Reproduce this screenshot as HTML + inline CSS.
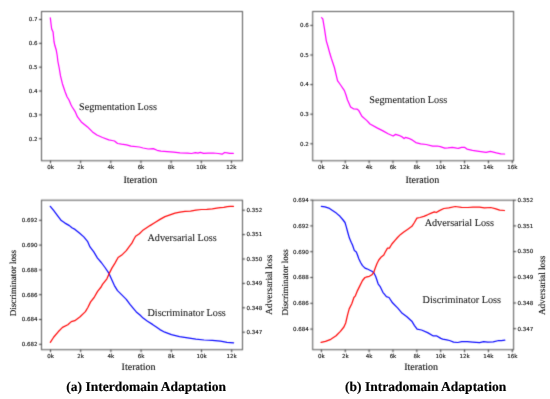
<!DOCTYPE html>
<html><head><meta charset="utf-8"><title>Loss curves</title>
<style>
html,body{margin:0;padding:0;background:#fff;}
body{width:550px;height:399px;overflow:hidden;}
svg{display:block;text-rendering:geometricPrecision;}
.tk{font-family:"DejaVu Sans","Liberation Sans",sans-serif;font-size:5.5px;fill:#151515;stroke:#151515;stroke-width:0.15px;}
.lab{font-family:"Liberation Serif",serif;font-size:10.2px;fill:#222;stroke:#222;stroke-width:0.1px;}
.ax{font-family:"Liberation Serif",serif;font-size:10px;fill:#161616;stroke:#161616;stroke-width:0.14px;}
.ax2{font-family:"Liberation Serif",serif;font-size:9px;fill:#161616;stroke:#161616;stroke-width:0.14px;}
.cap{font-family:"Liberation Serif",serif;font-size:13.5px;font-weight:bold;fill:#000;stroke:#000;stroke-width:0.15px;}
</style></head>
<body>
<svg width="550" height="399" viewBox="0 0 550 399">
<defs><filter id="bl" filterUnits="userSpaceOnUse" x="0" y="0" width="550" height="399" color-interpolation-filters="sRGB"><feConvolveMatrix order="3" kernelMatrix="1 3 1 3 9 3 1 3 1" divisor="25" edgeMode="none"/></filter>
<filter id="bt" filterUnits="userSpaceOnUse" x="0" y="0" width="550" height="399" color-interpolation-filters="sRGB"><feConvolveMatrix order="3" kernelMatrix="1 6 1 6 36 6 1 6 1" divisor="64" edgeMode="none"/></filter>
<filter id="bx" filterUnits="userSpaceOnUse" x="0" y="0" width="550" height="399" color-interpolation-filters="sRGB"><feConvolveMatrix order="3" kernelMatrix="1 10 1 10 100 10 1 10 1" divisor="144" edgeMode="none"/></filter></defs>
<rect width="550" height="399" fill="#fff"/>
<g filter="url(#bl)">
<rect x="41.5" y="11.5" width="201.0" height="149.25" fill="none" stroke="#555" stroke-width="1"/>
<line x1="50.50" y1="160.75" x2="50.50" y2="163.25" stroke="#222" stroke-width="0.9"/>
<line x1="80.66" y1="160.75" x2="80.66" y2="163.25" stroke="#222" stroke-width="0.9"/>
<line x1="110.82" y1="160.75" x2="110.82" y2="163.25" stroke="#222" stroke-width="0.9"/>
<line x1="140.98" y1="160.75" x2="140.98" y2="163.25" stroke="#222" stroke-width="0.9"/>
<line x1="171.14" y1="160.75" x2="171.14" y2="163.25" stroke="#222" stroke-width="0.9"/>
<line x1="201.30" y1="160.75" x2="201.30" y2="163.25" stroke="#222" stroke-width="0.9"/>
<line x1="231.46" y1="160.75" x2="231.46" y2="163.25" stroke="#222" stroke-width="0.9"/>
<line x1="39.0" y1="138.70" x2="41.5" y2="138.70" stroke="#222" stroke-width="0.9"/>
<line x1="39.0" y1="114.86" x2="41.5" y2="114.86" stroke="#222" stroke-width="0.9"/>
<line x1="39.0" y1="91.02" x2="41.5" y2="91.02" stroke="#222" stroke-width="0.9"/>
<line x1="39.0" y1="67.18" x2="41.5" y2="67.18" stroke="#222" stroke-width="0.9"/>
<line x1="39.0" y1="43.34" x2="41.5" y2="43.34" stroke="#222" stroke-width="0.9"/>
<line x1="39.0" y1="19.50" x2="41.5" y2="19.50" stroke="#222" stroke-width="0.9"/>
<rect x="312.7" y="11.5" width="200.90000000000003" height="149.25" fill="none" stroke="#555" stroke-width="1"/>
<line x1="321.40" y1="160.75" x2="321.40" y2="163.25" stroke="#222" stroke-width="0.9"/>
<line x1="345.26" y1="160.75" x2="345.26" y2="163.25" stroke="#222" stroke-width="0.9"/>
<line x1="369.12" y1="160.75" x2="369.12" y2="163.25" stroke="#222" stroke-width="0.9"/>
<line x1="392.98" y1="160.75" x2="392.98" y2="163.25" stroke="#222" stroke-width="0.9"/>
<line x1="416.84" y1="160.75" x2="416.84" y2="163.25" stroke="#222" stroke-width="0.9"/>
<line x1="440.70" y1="160.75" x2="440.70" y2="163.25" stroke="#222" stroke-width="0.9"/>
<line x1="464.56" y1="160.75" x2="464.56" y2="163.25" stroke="#222" stroke-width="0.9"/>
<line x1="488.42" y1="160.75" x2="488.42" y2="163.25" stroke="#222" stroke-width="0.9"/>
<line x1="512.28" y1="160.75" x2="512.28" y2="163.25" stroke="#222" stroke-width="0.9"/>
<line x1="310.2" y1="143.80" x2="312.7" y2="143.80" stroke="#222" stroke-width="0.9"/>
<line x1="310.2" y1="114.20" x2="312.7" y2="114.20" stroke="#222" stroke-width="0.9"/>
<line x1="310.2" y1="84.60" x2="312.7" y2="84.60" stroke="#222" stroke-width="0.9"/>
<line x1="310.2" y1="55.00" x2="312.7" y2="55.00" stroke="#222" stroke-width="0.9"/>
<line x1="310.2" y1="25.40" x2="312.7" y2="25.40" stroke="#222" stroke-width="0.9"/>
<rect x="41.5" y="200.2" width="201.0" height="149.5" fill="none" stroke="#555" stroke-width="1"/>
<line x1="50.50" y1="349.7" x2="50.50" y2="352.2" stroke="#222" stroke-width="0.9"/>
<line x1="80.70" y1="349.7" x2="80.70" y2="352.2" stroke="#222" stroke-width="0.9"/>
<line x1="110.90" y1="349.7" x2="110.90" y2="352.2" stroke="#222" stroke-width="0.9"/>
<line x1="141.10" y1="349.7" x2="141.10" y2="352.2" stroke="#222" stroke-width="0.9"/>
<line x1="171.30" y1="349.7" x2="171.30" y2="352.2" stroke="#222" stroke-width="0.9"/>
<line x1="201.50" y1="349.7" x2="201.50" y2="352.2" stroke="#222" stroke-width="0.9"/>
<line x1="231.70" y1="349.7" x2="231.70" y2="352.2" stroke="#222" stroke-width="0.9"/>
<line x1="39.0" y1="344.30" x2="41.5" y2="344.30" stroke="#222" stroke-width="0.9"/>
<line x1="39.0" y1="319.50" x2="41.5" y2="319.50" stroke="#222" stroke-width="0.9"/>
<line x1="39.0" y1="294.70" x2="41.5" y2="294.70" stroke="#222" stroke-width="0.9"/>
<line x1="39.0" y1="269.90" x2="41.5" y2="269.90" stroke="#222" stroke-width="0.9"/>
<line x1="39.0" y1="245.10" x2="41.5" y2="245.10" stroke="#222" stroke-width="0.9"/>
<line x1="39.0" y1="220.30" x2="41.5" y2="220.30" stroke="#222" stroke-width="0.9"/>
<line x1="242.5" y1="332.20" x2="245.0" y2="332.20" stroke="#222" stroke-width="0.9"/>
<line x1="242.5" y1="307.80" x2="245.0" y2="307.80" stroke="#222" stroke-width="0.9"/>
<line x1="242.5" y1="283.40" x2="245.0" y2="283.40" stroke="#222" stroke-width="0.9"/>
<line x1="242.5" y1="259.00" x2="245.0" y2="259.00" stroke="#222" stroke-width="0.9"/>
<line x1="242.5" y1="234.60" x2="245.0" y2="234.60" stroke="#222" stroke-width="0.9"/>
<line x1="242.5" y1="210.20" x2="245.0" y2="210.20" stroke="#222" stroke-width="0.9"/>
<rect x="312.7" y="200.2" width="200.90000000000003" height="149.5" fill="none" stroke="#555" stroke-width="1"/>
<line x1="321.40" y1="349.7" x2="321.40" y2="352.2" stroke="#222" stroke-width="0.9"/>
<line x1="345.26" y1="349.7" x2="345.26" y2="352.2" stroke="#222" stroke-width="0.9"/>
<line x1="369.12" y1="349.7" x2="369.12" y2="352.2" stroke="#222" stroke-width="0.9"/>
<line x1="392.98" y1="349.7" x2="392.98" y2="352.2" stroke="#222" stroke-width="0.9"/>
<line x1="416.84" y1="349.7" x2="416.84" y2="352.2" stroke="#222" stroke-width="0.9"/>
<line x1="440.70" y1="349.7" x2="440.70" y2="352.2" stroke="#222" stroke-width="0.9"/>
<line x1="464.56" y1="349.7" x2="464.56" y2="352.2" stroke="#222" stroke-width="0.9"/>
<line x1="488.42" y1="349.7" x2="488.42" y2="352.2" stroke="#222" stroke-width="0.9"/>
<line x1="512.28" y1="349.7" x2="512.28" y2="352.2" stroke="#222" stroke-width="0.9"/>
<line x1="310.2" y1="329.10" x2="312.7" y2="329.10" stroke="#222" stroke-width="0.9"/>
<line x1="310.2" y1="303.30" x2="312.7" y2="303.30" stroke="#222" stroke-width="0.9"/>
<line x1="310.2" y1="277.50" x2="312.7" y2="277.50" stroke="#222" stroke-width="0.9"/>
<line x1="310.2" y1="251.70" x2="312.7" y2="251.70" stroke="#222" stroke-width="0.9"/>
<line x1="310.2" y1="225.90" x2="312.7" y2="225.90" stroke="#222" stroke-width="0.9"/>
<line x1="310.2" y1="200.10" x2="312.7" y2="200.10" stroke="#222" stroke-width="0.9"/>
<line x1="513.6" y1="328.70" x2="516.1" y2="328.70" stroke="#222" stroke-width="0.9"/>
<line x1="513.6" y1="303.00" x2="516.1" y2="303.00" stroke="#222" stroke-width="0.9"/>
<line x1="513.6" y1="277.30" x2="516.1" y2="277.30" stroke="#222" stroke-width="0.9"/>
<line x1="513.6" y1="251.60" x2="516.1" y2="251.60" stroke="#222" stroke-width="0.9"/>
<line x1="513.6" y1="225.90" x2="516.1" y2="225.90" stroke="#222" stroke-width="0.9"/>
<line x1="513.6" y1="200.20" x2="516.1" y2="200.20" stroke="#222" stroke-width="0.9"/>
</g>
<g filter="url(#bt)">
<polyline points="50.3,17.8 51.5,27.8 51.9,29.6 53.1,32.1 54.0,41.5 54.8,45.3 56.3,50.3 57.2,55.5 57.9,61.5 59.2,68.0 60.5,75.9 62.4,83.7 65.0,91.5 67.0,96.7 69.0,100.0 70.9,104.5 71.9,106.5 75.0,111.3 77.5,116.9 81.3,121.9 87.5,126.9 92.5,131.9 96.9,135.0 102.5,137.5 108.8,139.8 112.0,140.5 114.5,141.0 117.6,143.5 121.5,144.2 126.5,144.8 131.0,146.1 139.3,147.0 143.1,148.0 148.2,149.0 153.3,148.6 157.1,150.3 160.9,151.2 167.3,151.6 173.6,152.2 180.0,152.8 187.7,153.2 191.5,153.5 195.4,152.6 197.9,153.2 200.4,152.4 203.6,153.3 208.1,153.2 213.2,153.0 218.3,153.5 222.1,154.2 224.6,152.5 227.2,152.9 229.7,153.4 233.3,153.4" fill="none" stroke="#ff00ff" stroke-width="1.25" stroke-linejoin="round" stroke-linecap="round"/>
<polyline points="321.5,17.6 322.8,18.9 324.4,28.3 326.3,40.8 328.1,47.0 329.8,53.3 331.3,58.3 331.9,60.0 334.4,67.5 336.5,76.3 337.5,80.6 340.6,85.0 344.4,90.6 346.0,95.0 347.5,100.0 348.1,101.3 350.6,106.9 353.8,109.0 356.9,109.1 358.8,110.6 361.9,116.3 366.9,120.6 370.0,124.0 377.5,128.1 382.5,130.6 388.1,133.8 393.1,136.0 395.6,134.4 398.8,135.3 402.2,136.9 404.1,138.5 405.5,137.4 408.7,138.3 411.5,139.6 415.8,142.6 420.7,143.8 426.2,144.5 432.7,146.2 437.1,146.0 440.3,146.7 444.7,148.1 448.0,147.8 452.3,147.3 456.7,148.1 458.3,148.3 461.5,147.4 464.8,147.4 467.0,149.1 472.4,150.3 479.0,151.3 486.1,152.4 490.4,151.4 496.4,152.9 500.8,153.8 504.6,154.0" fill="none" stroke="#ff00ff" stroke-width="1.25" stroke-linejoin="round" stroke-linecap="round"/>
<polyline points="50.3,206.3 53.8,210.6 57.5,215.6 61.3,220.6 65.0,223.1 69.4,225.6 71.9,227.8 75.0,229.4 79.4,233.1 83.8,236.9 87.5,241.3 90.0,246.9 93.8,251.9 97.5,258.1 101.3,262.5 105.0,267.5 108.8,273.1 111.9,280.0 114.4,285.6 117.5,290.6 121.3,294.4 126.3,299.4 130.0,304.4 133.1,308.1 136.3,311.9 140.0,315.0 143.1,318.1 147.5,321.3 152.5,324.4 156.3,326.9 159.9,329.6 164.8,332.2 171.4,334.6 179.5,336.6 187.7,337.9 195.9,339.1 204.1,340.0 212.3,340.4 220.5,341.2 227.0,342.3 233.6,342.8" fill="none" stroke="#0a0aff" stroke-width="1.25" stroke-linejoin="round" stroke-linecap="round"/>
<polyline points="50.3,342.3 53.8,337.0 58.2,331.8 62.5,327.4 67.8,324.7 71.3,321.6 74.8,320.7 80.1,316.8 85.4,311.6 88.0,307.2 90.6,301.9 94.1,297.5 97.6,291.4 101.1,287.0 102.5,284.4 106.9,278.8 109.4,273.1 111.9,268.1 115.0,263.1 118.1,257.5 122.5,254.4 126.3,250.6 129.4,246.3 131.9,243.1 133.5,240.0 135.6,236.3 139.4,233.8 142.5,230.6 146.3,228.1 150.0,225.6 155.0,222.5 160.0,219.4 165.0,216.6 170.0,214.8 175.0,213.1 180.0,212.1 185.0,211.3 190.5,211.1 195.9,210.2 201.4,209.5 206.8,209.3 212.3,208.8 216.8,208.2 220.3,207.7 223.8,207.3 227.3,206.6 230.2,206.3 233.4,206.4" fill="none" stroke="#ff0a0a" stroke-width="1.25" stroke-linejoin="round" stroke-linecap="round"/>
<polyline points="321.3,206.3 325.0,206.9 328.8,208.1 332.5,210.6 336.3,213.1 340.0,216.3 343.1,220.0 345.0,222.5 346.3,226.9 347.8,232.5 349.4,238.1 351.3,242.5 352.5,245.0 354.4,250.6 356.3,251.9 357.5,255.0 358.8,258.8 360.6,262.5 362.5,265.6 365.0,268.1 366.9,268.8 369.4,270.0 371.9,271.3 373.8,272.8 375.6,276.3 376.9,280.0 378.1,283.8 380.0,286.3 382.9,292.3 386.4,296.7 389.0,297.5 392.5,302.8 397.8,308.1 402.2,313.3 406.6,316.5 411.8,321.2 414.5,325.6 417.1,329.1 421.5,330.0 427.6,332.6 432.9,335.8 436.4,335.8 440.8,338.4 442.7,339.1 446.8,339.8 449.5,340.5 453.6,342.1 457.7,342.5 461.8,341.6 467.3,341.6 472.7,342.1 479.6,342.6 483.7,341.6 487.7,342.2 493.2,341.8 498.7,340.5 501.4,340.7 504.8,340.2" fill="none" stroke="#0a0aff" stroke-width="1.25" stroke-linejoin="round" stroke-linecap="round"/>
<polyline points="321.1,342.3 325.5,341.4 330.8,339.3 336.1,335.8 340.4,331.4 343.9,327.0 345.7,323.0 347.5,315.1 349.2,308.9 351.8,303.7 353.9,297.5 355.4,295.8 357.1,291.4 359.7,286.1 362.5,280.5 365.0,277.5 366.9,276.9 369.4,276.3 371.9,274.8 373.8,272.3 375.0,268.8 376.9,263.8 378.8,260.0 381.3,256.9 383.8,255.0 385.0,252.5 387.5,248.1 389.4,248.1 391.9,244.0 395.0,240.3 397.5,237.5 400.6,234.4 403.8,231.9 407.5,229.4 411.9,226.3 414.4,222.5 416.9,218.1 420.0,217.5 423.8,216.3 427.5,214.8 431.3,213.1 434.4,211.9 436.3,212.5 439.4,210.6 443.8,208.5 448.8,207.9 455.2,206.5 461.5,207.3 467.9,207.5 473.0,207.2 479.4,207.2 484.4,207.9 490.8,207.5 495.9,208.8 499.7,210.1 504.5,210.5" fill="none" stroke="#ff0a0a" stroke-width="1.25" stroke-linejoin="round" stroke-linecap="round"/>
</g>
<g filter="url(#bx)">
<text x="50.50" y="169.2" class="tk" text-anchor="middle">0k</text>
<text x="80.66" y="169.2" class="tk" text-anchor="middle">2k</text>
<text x="110.82" y="169.2" class="tk" text-anchor="middle">4k</text>
<text x="140.98" y="169.2" class="tk" text-anchor="middle">6k</text>
<text x="171.14" y="169.2" class="tk" text-anchor="middle">8k</text>
<text x="201.30" y="169.2" class="tk" text-anchor="middle">10k</text>
<text x="231.46" y="169.2" class="tk" text-anchor="middle">12k</text>
<text x="37.5" y="140.50" class="tk" text-anchor="end">0.2</text>
<text x="37.5" y="116.66" class="tk" text-anchor="end">0.3</text>
<text x="37.5" y="92.82" class="tk" text-anchor="end">0.4</text>
<text x="37.5" y="68.98" class="tk" text-anchor="end">0.5</text>
<text x="37.5" y="45.14" class="tk" text-anchor="end">0.6</text>
<text x="37.5" y="21.30" class="tk" text-anchor="end">0.7</text>
<text x="321.40" y="169.2" class="tk" text-anchor="middle">0k</text>
<text x="345.26" y="169.2" class="tk" text-anchor="middle">2k</text>
<text x="369.12" y="169.2" class="tk" text-anchor="middle">4k</text>
<text x="392.98" y="169.2" class="tk" text-anchor="middle">6k</text>
<text x="416.84" y="169.2" class="tk" text-anchor="middle">8k</text>
<text x="440.70" y="169.2" class="tk" text-anchor="middle">10k</text>
<text x="464.56" y="169.2" class="tk" text-anchor="middle">12k</text>
<text x="488.42" y="169.2" class="tk" text-anchor="middle">14k</text>
<text x="512.28" y="169.2" class="tk" text-anchor="middle">16k</text>
<text x="308.7" y="145.60" class="tk" text-anchor="end">0.2</text>
<text x="308.7" y="116.00" class="tk" text-anchor="end">0.3</text>
<text x="308.7" y="86.40" class="tk" text-anchor="end">0.4</text>
<text x="308.7" y="56.80" class="tk" text-anchor="end">0.5</text>
<text x="308.7" y="27.20" class="tk" text-anchor="end">0.6</text>
<text x="50.50" y="358.2" class="tk" text-anchor="middle">0k</text>
<text x="80.70" y="358.2" class="tk" text-anchor="middle">2k</text>
<text x="110.90" y="358.2" class="tk" text-anchor="middle">4k</text>
<text x="141.10" y="358.2" class="tk" text-anchor="middle">6k</text>
<text x="171.30" y="358.2" class="tk" text-anchor="middle">8k</text>
<text x="201.50" y="358.2" class="tk" text-anchor="middle">10k</text>
<text x="231.70" y="358.2" class="tk" text-anchor="middle">12k</text>
<text x="37.5" y="346.10" class="tk" text-anchor="end">0.682</text>
<text x="37.5" y="321.30" class="tk" text-anchor="end">0.684</text>
<text x="37.5" y="296.50" class="tk" text-anchor="end">0.686</text>
<text x="37.5" y="271.70" class="tk" text-anchor="end">0.688</text>
<text x="37.5" y="246.90" class="tk" text-anchor="end">0.690</text>
<text x="37.5" y="222.10" class="tk" text-anchor="end">0.692</text>
<text x="246.5" y="334.00" class="tk" text-anchor="start">0.347</text>
<text x="246.5" y="309.60" class="tk" text-anchor="start">0.348</text>
<text x="246.5" y="285.20" class="tk" text-anchor="start">0.349</text>
<text x="246.5" y="260.80" class="tk" text-anchor="start">0.350</text>
<text x="246.5" y="236.40" class="tk" text-anchor="start">0.351</text>
<text x="246.5" y="212.00" class="tk" text-anchor="start">0.352</text>
<text x="321.40" y="358.2" class="tk" text-anchor="middle">0k</text>
<text x="345.26" y="358.2" class="tk" text-anchor="middle">2k</text>
<text x="369.12" y="358.2" class="tk" text-anchor="middle">4k</text>
<text x="392.98" y="358.2" class="tk" text-anchor="middle">6k</text>
<text x="416.84" y="358.2" class="tk" text-anchor="middle">8k</text>
<text x="440.70" y="358.2" class="tk" text-anchor="middle">10k</text>
<text x="464.56" y="358.2" class="tk" text-anchor="middle">12k</text>
<text x="488.42" y="358.2" class="tk" text-anchor="middle">14k</text>
<text x="512.28" y="358.2" class="tk" text-anchor="middle">16k</text>
<text x="308.7" y="330.90" class="tk" text-anchor="end">0.684</text>
<text x="308.7" y="305.10" class="tk" text-anchor="end">0.686</text>
<text x="308.7" y="279.30" class="tk" text-anchor="end">0.688</text>
<text x="308.7" y="253.50" class="tk" text-anchor="end">0.690</text>
<text x="308.7" y="227.70" class="tk" text-anchor="end">0.692</text>
<text x="308.7" y="201.90" class="tk" text-anchor="end">0.694</text>
<text x="517.6" y="330.50" class="tk" text-anchor="start">0.347</text>
<text x="517.6" y="304.80" class="tk" text-anchor="start">0.348</text>
<text x="517.6" y="279.10" class="tk" text-anchor="start">0.349</text>
<text x="517.6" y="253.40" class="tk" text-anchor="start">0.350</text>
<text x="517.6" y="227.70" class="tk" text-anchor="start">0.351</text>
<text x="517.6" y="202.00" class="tk" text-anchor="start">0.352</text>
<text x="117.95" y="110.3" class="lab" text-anchor="middle" >Segmentation Loss</text>
<text x="408.2" y="102.5" class="lab" text-anchor="middle" >Segmentation Loss</text>
<text x="182.15" y="240.9" class="lab" text-anchor="middle" >Adversarial Loss</text>
<text x="186.65" y="315.9" class="lab" text-anchor="middle" >Discriminator Loss</text>
<text x="459.35" y="225.9" class="lab" text-anchor="middle" >Adversarial Loss</text>
<text x="461.8" y="302.5" class="lab" text-anchor="middle" >Discriminator Loss</text>
<text x="140.35" y="182.8" class="ax" text-anchor="middle" >Iteration</text>
<text x="422.4" y="182.8" class="ax" text-anchor="middle" >Iteration</text>
<text x="138.55" y="370.2" class="ax" text-anchor="middle" >Iteration</text>
<text x="421.1" y="369.6" class="ax" text-anchor="middle" >Iteration</text>
<text class="ax2" transform="translate(16.1,283.05) rotate(-90)" text-anchor="middle">Discriminator loss</text>
<text class="ax2" style="font-size:9.3px" transform="translate(272.1,284.6) rotate(-90)" text-anchor="middle">Adversarial loss</text>
<text class="ax2" transform="translate(287.9,282.45) rotate(-90)" text-anchor="middle">Discriminator loss</text>
<text class="ax2" style="font-size:9.2px" transform="translate(545.3,285.4) rotate(-90)" text-anchor="middle">Adversarial loss</text>
</g>
<text x="146.25" y="391.4" class="cap" text-anchor="middle">(a) Interdomain Adaptation</text>
<text x="425.75" y="391.4" class="cap" text-anchor="middle">(b) Intradomain Adaptation</text>
</svg>
</body></html>
